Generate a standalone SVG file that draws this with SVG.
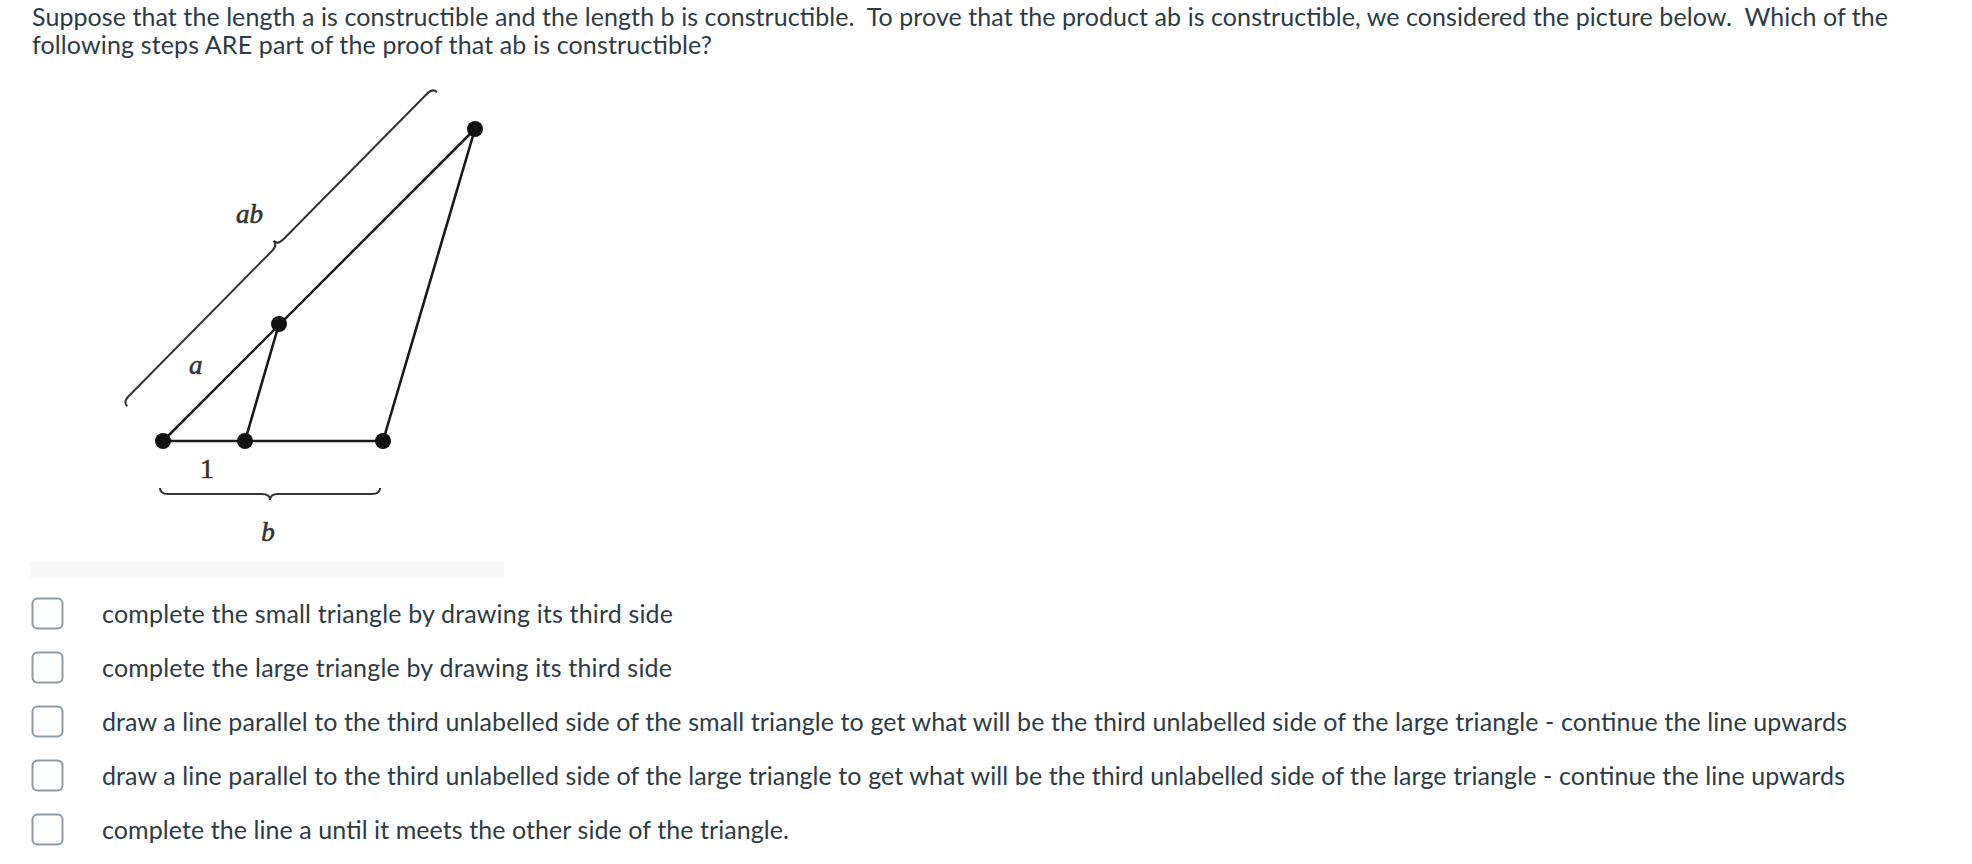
<svg xmlns="http://www.w3.org/2000/svg" width="1972" height="864" viewBox="0 0 1972 864">
<style>
.q{font-family:Lato,"Open Sans","Liberation Sans",sans-serif;fill:#2D3B45;font-size:25px}
.o{font-family:Lato,"Open Sans","Liberation Sans",sans-serif;fill:#2D3B45;font-size:25px}
.ln{stroke:#1a1a1a;stroke-width:2.6;fill:none;stroke-linecap:round}
.br{stroke:#333;stroke-width:2;fill:none}
.dot{fill:#111}
.lab{font-family:"Liberation Serif","Times New Roman",serif;fill:#333;stroke:#333;stroke-width:0.6;font-size:27px}
.cb{fill:#fff;stroke:#8D99A3;stroke-width:2}
</style>
<rect width="1972" height="864" fill="#fff"/>
<g id="question">
<text class="q" x="32" y="26" textLength="1856" xml:space="preserve">Suppose that the length a is constructible and the length b is constructible.  To prove that the product ab is constructible, we considered the picture below.  Which of the</text>
<text class="q" x="32" y="54" textLength="680">following steps ARE part of the proof that ab is constructible?</text>
</g>
<g id="figure">
<rect x="30" y="562" width="474" height="16" fill="#F7F7F7"/>
<g class="ln">
<line x1="163" y1="441" x2="383" y2="441"/>
<line x1="163" y1="441" x2="475" y2="129"/>
<line x1="245" y1="441" x2="279" y2="324"/>
<line x1="383" y1="441" x2="475" y2="129"/>
</g>
<path class="br" transform="translate(123,402) rotate(-45.4)" d="M0,6 Q0,0 8,0 L212.5,0 Q220.5,0 220.5,-6 Q220.5,0 228.5,0 L433,0 Q441,0 441,6"/>
<path class="br" transform="translate(160,494)" d="M0,-6 Q0,0 8,0 L102,0 Q110,0 110,6 Q110,0 118,0 L212,0 Q220,0 220,-6"/>
<g class="dot">
<circle cx="163" cy="441" r="8"/>
<circle cx="245" cy="441" r="8"/>
<circle cx="383" cy="441" r="8"/>
<circle cx="279" cy="324" r="8"/>
<circle cx="475" cy="129" r="8"/>
</g>
<text class="lab" x="236" y="223" font-style="italic">ab</text>
<text class="lab" x="189" y="374" font-style="italic">a</text>
<text class="lab" x="207" y="478" text-anchor="middle" font-size="25">1</text>
<text class="lab" x="268" y="541" text-anchor="middle" font-style="italic">b</text>
</g>
<g id="options">
<g id="opt1"><rect class="cb" x="32.5" y="598.5" width="30" height="30" rx="5"/><text class="o" x="102" y="623" textLength="571">complete the small triangle by drawing its third side</text></g>
<g id="opt2"><rect class="cb" x="32.5" y="652.5" width="30" height="30" rx="5"/><text class="o" x="102" y="677" textLength="570">complete the large triangle by drawing its third side</text></g>
<g id="opt3"><rect class="cb" x="32.5" y="706.5" width="30" height="30" rx="5"/><text class="o" x="102" y="731" textLength="1745">draw a line parallel to the third unlabelled side of the small triangle to get what will be the third unlabelled side of the large triangle - continue the line upwards</text></g>
<g id="opt4"><rect class="cb" x="32.5" y="760.5" width="30" height="30" rx="5"/><text class="o" x="102" y="785" textLength="1743">draw a line parallel to the third unlabelled side of the large triangle to get what will be the third unlabelled side of the large triangle - continue the line upwards</text></g>
<g id="opt5"><rect class="cb" x="32.5" y="814.5" width="30" height="30" rx="5"/><text class="o" x="102" y="839" textLength="687">complete the line a until it meets the other side of the triangle.</text></g>
</g>
</svg>
